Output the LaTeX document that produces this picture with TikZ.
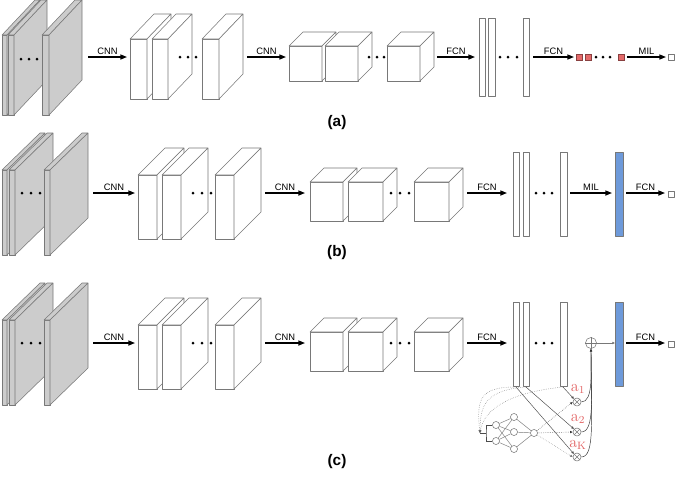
\documentclass[tikz,border=0pt]{standalone}
\usepackage{fontspec}
\newfontfamily\labelfont{Liberation Sans}
\usetikzlibrary{arrows.meta}

\definecolor{slabgray}{RGB}{204,204,204}
\definecolor{edgegray}{RGB}{120,120,120}
\definecolor{poolred}{RGB}{228,106,106}
\definecolor{bagblue}{RGB}{110,154,218}
\definecolor{attred}{RGB}{226,100,100}

\tikzset{
  box/.style={draw=edgegray, line width=0.4pt, line join=round},
  flow/.style={-{Triangle[length=5pt,width=3.8pt]}, line width=1pt},
  lbl/.style={above, inner sep=1.5pt, font=\fontsize{7}{8}\labelfont},
  tag/.style={font=\fontsize{11.5}{13}\labelfont\bfseries},
  wire/.style={draw=edgegray, line width=0.35pt},
  tip/.style={-{Latex[length=2pt,width=2pt]}},
  neuron/.style={circle, draw=edgegray, line width=0.4pt, minimum size=5.3pt, inner sep=0pt},
  mult/.style={circle, draw=edgegray, line width=0.4pt, minimum size=6pt, inner sep=0pt},
  sumnode/.style={circle, draw=edgegray, line width=0.4pt, minimum size=8.3pt, inner sep=0pt},
  alab/.style={text=attred, inner sep=0pt, font=\fontsize{12}{14}\selectfont}
}

% x, y, width, height, depth x, depth y, fill
\newcommand{\slab}[7]{%
  \filldraw[box, fill=#7] (#1,#2) rectangle ++(#3,#4);
  \filldraw[box, fill=#7] (#1,#2) -- ++(#5,-#6) -- ++(#3,0) -- ++(-#5,#6) -- cycle;
  \filldraw[box, fill=#7] (#1+#3,#2) -- ++(#5,-#6) -- ++(0,#4) -- ++(-#5,#6) -- cycle;
}
\newcommand{\flowarrow}[5]{%
  \coordinate (#1-s) at (#2,#4);
  \coordinate (#1-e) at (#3,#4);
  \draw[flow] (#1-s) -- node[lbl] {#5} (#1-e);
}
\newcommand{\dotrow}[4]{\foreach \d in {#1,#2,#3} \fill (\d,#4) circle (1.5);}

\begin{document}
\begin{tikzpicture}[x=0.75pt, y=-0.75pt]
    \useasboundingbox (0,0) rectangle (675,480);

    % (a)
    \slab{2}{35}{5}{80}{33}{35}{slabgray}
    \slab{8}{35}{6}{80}{33}{35}{slabgray}
    \slab{42}{35}{7}{80}{33}{35}{slabgray}
    \dotrow{21}{29}{37}{59}
    \flowarrow{a-cnn1}{88}{127}{57}{CNN}

    \slab{130}{39}{17}{60}{24}{25}{white}
    \slab{152}{39}{16}{60}{24}{25}{white}
    \slab{202}{39}{17}{60}{24}{25}{white}
    \dotrow{180}{188}{196}{57}
    \flowarrow{a-cnn2}{247}{286}{57}{CNN}

    \slab{289}{46}{33}{35}{14}{14}{white}
    \slab{325}{46}{33}{35}{14}{14}{white}
    \slab{387}{46}{33}{35}{14}{14}{white}
    \dotrow{369}{377}{384}{57}
    \flowarrow{a-fcn1}{437}{475}{57}{FCN}

    \foreach \x/\w in {479/6, 488/7, 523/6}
        \filldraw[box, fill=white] (\x,18) rectangle ++(\w,78);
    \dotrow{500}{508}{517}{57}
    \flowarrow{a-fcn2}{533}{574}{57}{FCN}

    \foreach \x in {576,585,618}
        \filldraw[draw=poolred!60!black, fill=poolred, line width=0.3pt] (\x,54) rectangle ++(6,6);
    \dotrow{596}{603}{610}{57}
    \flowarrow{a-mil}{627}{666}{57}{MIL}
    \draw[box] (668,54) rectangle ++(6,6);

    \node[tag] (tag-a) at (337,123) {(a)};

    % (b) and (c)
    \foreach \row/\off in {b/0, c/150} {
        \slab{2}{170+\off}{5}{85}{38}{37}{slabgray}
        \slab{9}{170+\off}{6}{85}{38}{37}{slabgray}
        \slab{44}{170+\off}{6}{85}{38}{37}{slabgray}
        \dotrow{22}{31}{40}{193+\off}
        \flowarrow{\row-cnn1}{93}{135}{193+\off}{CNN}

        \slab{138}{175+\off}{19}{64}{27}{27}{white}
        \slab{162}{175+\off}{19}{64}{27}{27}{white}
        \slab{215}{175+\off}{19}{64}{27}{27}{white}
        \dotrow{193}{202}{211}{193+\off}
        \flowarrow{\row-cnn2}{265}{305}{193+\off}{CNN}

        \slab{310}{182+\off}{33}{39}{14}{14}{white}
        \slab{348}{182+\off}{35}{39}{14}{14}{white}
        \slab{414}{182+\off}{35}{39}{14}{14}{white}
        \dotrow{391}{400}{409}{193+\off}
        \flowarrow{\row-fcn1}{467}{507}{193+\off}{FCN}

        \foreach \x/\w in {513/6, 523/6, 560/7}
            \filldraw[box, fill=white] (\x,152+\off) rectangle ++(\w,84);
        \dotrow{536}{544}{552}{193+\off}

        \filldraw[box, fill=bagblue] (615,152+\off) rectangle ++(8,84);
        \flowarrow{\row-fcn2}{626}{665}{193+\off}{FCN}
        \draw[box] (668,191+\off) rectangle ++(6,6);
    }
    \flowarrow{b-mil}{570}{612}{193}{MIL}

    \node[tag] (tag-b) at (337,253) {(b)};
    \node[tag] (tag-c) at (337,462) {(c)};

    % attention pooling in (c)
    \coordinate (c-b1) at (516,387);
    \coordinate (c-b2) at (526,387);
    \coordinate (c-b3) at (563,387);
    \coordinate (c-blue) at (615,343);

    \node[sumnode] (sum) at (591,343) {};
    \draw[wire] (sum.north) -- (sum.south) (sum.west) -- (sum.east);
    \draw[wire, tip] (sum.east) -- (c-blue);

    \node[mult] (m1) at (577,402) {};
    \node[mult] (m2) at (577,432) {};
    \node[mult] (mK) at (577,457) {};
    \foreach \m in {m1,m2,mK}
        \draw[wire] (\m.north west) -- (\m.south east) (\m.north east) -- (\m.south west);
    \node[alab] (lab1) at (578,389) {$\mathrm{a}_1$};
    \node[alab] (lab2) at (578,419) {$\mathrm{a}_2$};
    \node[alab] (labK) at (578,445) {$\mathrm{a}_\mathrm{K}$};

    \node[neuron] (in1) at (496,425) {};
    \node[neuron] (in2) at (496,441) {};
    \node[neuron] (h1) at (514,417) {};
    \node[neuron] (h2) at (514,432) {};
    \node[neuron] (h3) at (514,449) {};
    \node[neuron] (outn) at (534,433) {};
    \foreach \i in {in1,in2}
        \foreach \j in {h1,h2,h3}
            \draw[wire] (\i) -- (\j);
    \foreach \j in {h1,h2,h3}
        \draw[wire] (\j) -- (outn);

    \coordinate (join) at (486,433);
    \coordinate (att) at (480,433);
    \draw[wire, draw=black!70] (in1.west) -| (join) |- (in2.west);
    \draw[wire, draw=black!70] (att) -- (join);

    \draw[wire, densely dotted, tip, draw=black!60] (c-b1) .. controls +(-35,0) and +(-4,-35) .. (att);
    \draw[wire, densely dotted, tip, draw=black!60] (c-b2) .. controls +(-40,3) and +(0,-28) .. (att);
    \draw[wire, densely dotted, tip, draw=black!60] (c-b3) .. controls +(-60,6) and +(3,-20) .. (att);

    \draw[wire, tip, draw=black!70] (c-b3) -- (m1.north west);
    \draw[wire, tip, draw=black!70] (c-b2) -- (m2.north west);
    \draw[wire, tip, draw=black!70] (c-b1) -- (mK.north west);
    \draw[wire, densely dotted, tip, draw=black!80] (outn) -- (m1.west);
    \draw[wire, densely dotted, tip, draw=black!80] (outn) -- (m2.west);
    \draw[wire, densely dotted, tip] (outn) -- (mK.west);

    \draw[wire, tip, draw=black!80] (m1.east) .. controls +(12,0) and +(0,25) .. (sum.south);
    \draw[wire, tip, draw=black!80] (m2.east) .. controls +(14,0) and +(0,45) .. (sum.south);
    \draw[wire, tip, draw=black!80] (mK.east) .. controls +(14,0) and +(0,70) .. (sum.south);
\end{tikzpicture}
\end{document}
